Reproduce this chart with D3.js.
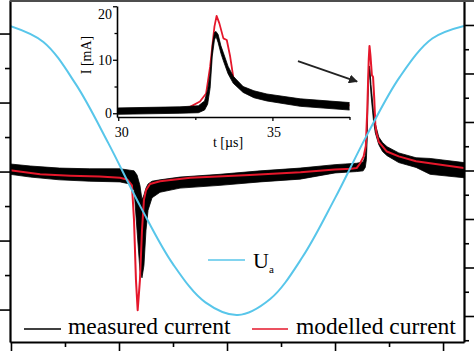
<!DOCTYPE html>
<html>
<head>
<meta charset="utf-8">
<script src="https://cdn.jsdelivr.net/npm/d3@7"></script>
<style>
  html, body { margin: 0; padding: 0; background: #fff; }
  svg { display: block; }
</style>
</head>
<body>
<svg id="chart"></svg>
<script>
// Measured current (noisy trace) as lower / upper envelope, mA vs t in µs
const measuredTime = [-0.09, 1.8, 4.5, 7.3, 10.1, 11.0, 11.4, 11.67, 11.94, 12.13, 12.31, 12.5, 12.69, 13.06, 13.8, 15.65, 19.35, 23.06, 26.76, 30.0, 31.0, 32.0, 32.6, 32.8, 32.9, 32.98, 33.05, 33.12, 33.17, 33.24, 33.33, 33.41, 33.56, 33.73, 34.05, 34.4, 34.82, 35.9, 37.5, 38.8, 41.94];
const measuredUpper = [1.1, 0.8, 0.5, 0.4, 0.4, 0.2, 0.1, -0.5, -2.0, -4.1, -3.4, -2.4, -1.8, -1.4, -1.2, -0.8, -0.4, 0.1, 0.5, 1.0, 1.1, 1.2, 1.4, 2.3, 4.4, 7.4, 12.7, 15.1, 15.3, 14.7, 12.6, 11.3, 8.8, 6.9, 5.0, 4.2, 3.6, 2.7, 2.0, 1.9, 1.3];
const measuredLower = [-0.4, -0.8, -1.2, -1.4, -1.5, -1.8, -2.7, -8.5, -14.3, -15.4, -13.6, -8.5, -5.6, -3.8, -3.0, -2.4, -2.0, -1.5, -1.1, -0.2, -0.1, 0.0, 0.1, 0.6, 1.7, 4.7, 10.7, 13.7, 14.4, 13.2, 11.2, 9.8, 7.4, 5.6, 3.9, 2.9, 2.3, 1.3, 0.6, -0.4, -0.9];

// Modelled current, mA
const modelTime = [-0.09, 2.7, 5.5, 8.2, 10.1, 10.8, 11.2, 11.39, 11.57, 11.73, 11.94, 12.13, 12.31, 12.5, 12.87, 13.8, 16.6, 22.1, 26.8, 30.0, 31.5, 32.0, 32.33, 32.65, 32.85, 32.98, 33.12, 33.19, 33.28, 33.41, 33.52, 33.63, 33.73, 33.84, 34.05, 34.8, 35.9, 37.5, 38.8, 41.94];
const modelCurrent = [0.2, -0.4, -0.6, -0.7, -0.9, -1.2, -2.0, -7.0, -15.7, -20.1, -15.7, -8.5, -4.1, -2.7, -1.8, -1.4, -0.9, -0.5, -0.1, 0.3, 0.4, 0.5, 1.2, 2.2, 3.7, 8.7, 16.2, 18.2, 16.8, 14.0, 13.7, 10.6, 6.8, 5.6, 4.3, 2.9, 2.2, 1.5, 1.2, 0.5];

// Applied voltage U_a, V
const voltTime = [-0.09, 3, 6, 9, 12, 15, 18, 21, 24, 27, 30, 33, 36, 39, 41.94];
const voltValues = [298, 265, 178, 57, -75, -193, -272, -298, -265, -178, -57, 75, 193, 272, 298];

// Tick values
const currentTicks = [-20, -15, -10, -5, 0, 5, 10, 15, 20];
const voltageTicks = [-350, -300, -250, -200, -150, -100, -50, 0, 50, 100, 150, 200, 250, 300, 350];
const timeTicks = [0, 5, 10, 15, 20, 25, 30, 35, 40];
const insetTimeTicks = [30, 32.5, 35, 37.5];
const insetCurrentTicks = [0, 5, 10, 15, 20];

// Arrow annotation (t, I) from inset towards the peak
const arrowFrom = [26.57, 16.0];
const arrowTo = [32.04, 13.04];

const svgWidth = 474, svgHeight = 351;
const plot = { left: 10, right: 464, top: 0, bottom: 342 };
const inset = { left: 117, right: 349.5, top: 6, bottom: 117 };

const red = "#e5172b", blue = "#58c6ea";
const serif = "'Liberation Serif', 'Times New Roman', Times, 'DejaVu Serif', serif";

const svg = d3.select("#chart")
    .attr("width", svgWidth)
    .attr("height", svgHeight)
    .attr("font-family", serif)
    .style("font-family", serif);

// Main scales
const xScale = d3.scaleLinear().domain([-0.09, 41.94]).range([plot.left, plot.right]);
const yCurrent = d3.scaleLinear().domain([-24.7, 24.86]).range([plot.bottom, plot.top]);
const yVoltage = d3.scaleLinear().domain([-353.6, 351.5]).range([plot.bottom, plot.top]);

// Inset scales
const xInset = d3.scaleLinear().domain([29.96, 37.5]).range([inset.left, inset.right]);
const yInset = d3.scaleLinear().domain([-0.7, 20.05]).range([inset.bottom, inset.top]);

const defs = svg.append("defs");
defs.append("clipPath").attr("id", "clipMain")
    .append("rect").attr("x", plot.left).attr("y", plot.top)
    .attr("width", plot.right - plot.left).attr("height", plot.bottom - plot.top);
defs.append("clipPath").attr("id", "clipInset")
    .append("rect").attr("x", inset.left + 1).attr("y", inset.top)
    .attr("width", inset.right - inset.left - 1).attr("height", inset.bottom - inset.top - 1);
defs.append("marker").attr("id", "arrowHead")
    .attr("viewBox", "0 0 10 10").attr("refX", 9).attr("refY", 5)
    .attr("markerWidth", 5).attr("markerHeight", 5).attr("orient", "auto")
    .append("path").attr("d", "M0,0 L10,5 L0,10 z").attr("fill", "#222");

const measured = measuredTime.map((t, i) => ({ t, lo: measuredLower[i], hi: measuredUpper[i] }));
const model = modelTime.map((t, i) => ({ t, v: modelCurrent[i] }));
const volt = voltTime.map((t, i) => ({ t, v: voltValues[i] }));

// ---- main plot ----
const main = svg.append("g").attr("clip-path", "url(#clipMain)");

main.append("path")
    .datum(measured)
    .attr("fill", "#000")
    .attr("stroke", "#000")
    .attr("stroke-width", 0.8)
    .attr("d", d3.area().x(d => xScale(d.t)).y0(d => yCurrent(d.lo)).y1(d => yCurrent(d.hi)));

main.append("path")
    .datum(model)
    .attr("fill", "none")
    .attr("stroke", red)
    .attr("stroke-width", 2)
    .attr("stroke-linejoin", "round")
    .attr("d", d3.line().x(d => xScale(d.t)).y(d => yCurrent(d.v)));

main.append("path")
    .datum(volt)
    .attr("fill", "none")
    .attr("stroke", blue)
    .attr("stroke-width", 2)
    .attr("d", d3.line().curve(d3.curveCatmullRom).x(d => xScale(d.t)).y(d => yVoltage(d.v)));

// Main axes (no labels, major/minor ticks)
function styleAxis(g, width) {
    g.attr("font-family", null);
    g.selectAll("text").remove();
    g.select(".domain").attr("stroke-width", width);
    g.selectAll(".tick line").attr("stroke-width", 1.6);
}

svg.append("g")
    .attr("transform", `translate(${plot.left},0)`)
    .call(d3.axisLeft(yCurrent).tickValues(currentTicks).tickSizeOuter(0))
    .call(g => styleAxis(g, 2.2))
    .call(g => g.selectAll(".tick line").attr("x2", d => d % 10 === 0 ? -10 : -5));

svg.append("g")
    .attr("transform", `translate(${plot.right},0)`)
    .call(d3.axisRight(yVoltage).tickValues(voltageTicks).tickSizeOuter(0))
    .call(g => styleAxis(g, 2.2))
    .call(g => g.selectAll(".tick line").attr("x2", d => d % 100 === 0 ? 10 : 5));

svg.append("g")
    .attr("transform", `translate(0,${plot.bottom})`)
    .call(d3.axisBottom(xScale).tickValues(timeTicks).tickSizeOuter(0))
    .call(g => styleAxis(g, 2.2))
    .call(g => g.selectAll(".tick line").attr("y2", d => d % 10 === 0 ? 10 : 5));

// top frame edge
svg.append("rect")
    .attr("x", plot.left).attr("y", 0)
    .attr("width", svgWidth - plot.left).attr("height", 2)
    .attr("fill", "#4d4d4d");

// ---- inset ----
const insetG = svg.append("g").attr("clip-path", "url(#clipInset)");

insetG.append("path")
    .datum(model)
    .attr("fill", "none")
    .attr("stroke", red)
    .attr("stroke-width", 1.8)
    .attr("stroke-linejoin", "round")
    .attr("d", d3.line().x(d => xInset(d.t)).y(d => yInset(d.v)));

insetG.append("path")
    .datum(measured)
    .attr("fill", "#000")
    .attr("stroke", "#000")
    .attr("stroke-width", 0.8)
    .attr("d", d3.area().x(d => xInset(d.t)).y0(d => yInset(d.lo)).y1(d => yInset(d.hi)));

const insetLeft = svg.append("g")
    .attr("transform", `translate(${inset.left},0)`)
    .call(d3.axisLeft(yInset).tickValues(insetCurrentTicks).tickSizeOuter(0)
        .tickFormat(d => d % 10 === 0 ? d : ""))
    .attr("font-family", null)
    .attr("font-size", null);
insetLeft.select(".domain").attr("stroke-width", 1.6);
insetLeft.selectAll(".tick line").attr("stroke-width", 1.3).attr("x2", d => d % 10 === 0 ? -4 : -2.5);
insetLeft.selectAll("text")
    .attr("x", -5)
    .attr("dy", d => d === 20 ? "0.85em" : "0.32em")
    .style("font-family", serif)
    .style("font-size", "14px");

const insetBottom = svg.append("g")
    .attr("transform", `translate(0,${inset.bottom})`)
    .call(d3.axisBottom(xInset).tickValues(insetTimeTicks).tickSizeOuter(0)
        .tickFormat(d => d % 5 === 0 ? d : ""))
    .attr("font-family", null)
    .attr("font-size", null);
insetBottom.select(".domain").attr("stroke-width", 1.6);
insetBottom.selectAll(".tick line").attr("stroke-width", 1.3).attr("y2", d => d % 5 === 0 ? 4 : 3);
insetBottom.selectAll("text")
    .attr("y", 10)
    .attr("dx", d => d === 30 ? 3 : 1)
    .style("font-family", serif)
    .style("font-size", "14px");

svg.append("text")
    .attr("x", 228).attr("y", 147)
    .attr("text-anchor", "middle")
    .style("font-family", serif)
    .style("font-size", "14px")
    .text("t [µs]");

svg.append("text")
    .attr("transform", "translate(91,55) rotate(-90)")
    .attr("text-anchor", "middle")
    .style("font-family", serif)
    .style("font-size", "14px")
    .text("I [mA]");

// arrow from inset to the peak
svg.append("line")
    .attr("x1", xScale(arrowFrom[0])).attr("y1", yCurrent(arrowFrom[1]))
    .attr("x2", xScale(arrowTo[0])).attr("y2", yCurrent(arrowTo[1]))
    .attr("stroke", "#222")
    .attr("stroke-width", 1.8)
    .attr("marker-end", "url(#arrowHead)");

// ---- legend ----
const legend = svg.append("g").style("font-family", serif);
legend.append("line").attr("x1", 24).attr("x2", 61).attr("y1", 329).attr("y2", 329)
    .attr("stroke", "#000").attr("stroke-width", 1.6);
legend.append("text").attr("x", 68).attr("y", 334)
    .style("font-size", "23.5px").text("measured current");
legend.append("line").attr("x1", 252).attr("x2", 288).attr("y1", 329).attr("y2", 329)
    .attr("stroke", red).attr("stroke-width", 1.6);
legend.append("text").attr("x", 296).attr("y", 334)
    .style("font-size", "23.5px").text("modelled current");
legend.append("line").attr("x1", 208).attr("x2", 245).attr("y1", 260).attr("y2", 260)
    .attr("stroke", blue).attr("stroke-width", 1.6);
const ua = legend.append("text").attr("x", 253).attr("y", 268).style("font-size", "22px");
ua.append("tspan").text("U");
ua.append("tspan").attr("dy", 5).style("font-size", "11px").text("a");
</script>
</body>
</html>
